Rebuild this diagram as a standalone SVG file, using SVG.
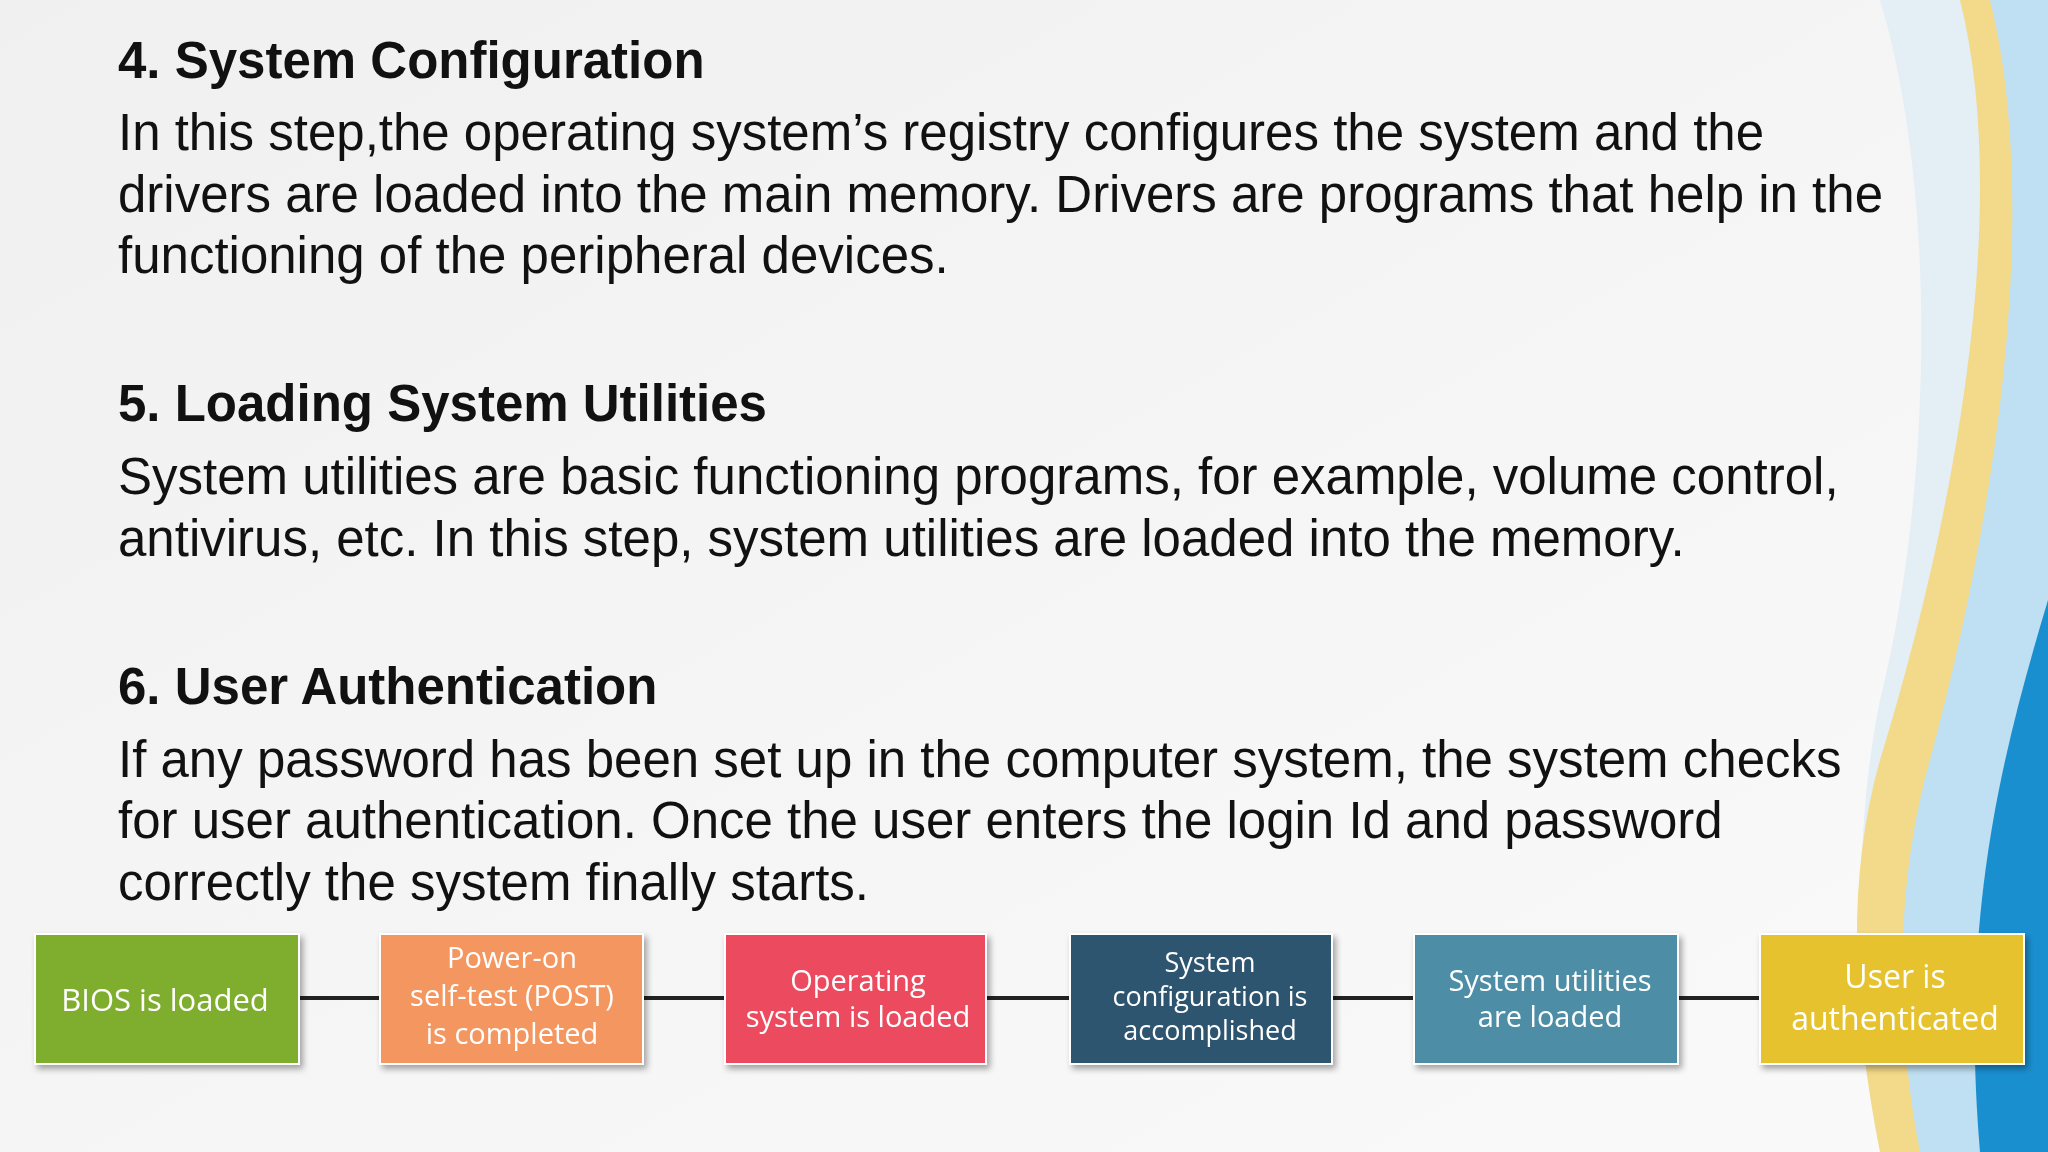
<svg xmlns="http://www.w3.org/2000/svg" width="2048" height="1152" viewBox="0 0 2048 1152">
<defs>
<style>
.h{font-family:"Liberation Sans",Arial,sans-serif;font-weight:bold;font-size:51px;fill:#111}
.b{font-family:"Liberation Sans",Arial,sans-serif;font-size:51px;fill:#111}
.t{font-family:"Open Sans","Liberation Sans",sans-serif;font-size:29px;fill:#fff;text-anchor:middle}
.box{stroke:#fff;stroke-width:2}
</style>
<filter id="sh" x="-10%" y="-10%" width="130%" height="130%"><feDropShadow dx="3" dy="4" stdDeviation="3" flood-color="#000" flood-opacity="0.35"/></filter>
<linearGradient id="bg" x1="0" y1="0" x2="1" y2="1"><stop offset="0" stop-color="#f0f0f0"/><stop offset="1" stop-color="#fafafa"/></linearGradient>
</defs>
<rect width="2048" height="1152" fill="url(#bg)"/>
<g id="decor">
<path d="M1880 0 C1940 200 1930 500 1880 700 C1850 850 1860 1000 1880 1152 L2048 1152 L2048 0 Z" fill="#e4eef5"/>
<path d="M1960 0 C2010 200 1960 500 1880 760 C1840 900 1860 1050 1880 1152 L2048 1152 L2048 0 Z" fill="#f3da8a"/>
<path d="M1990 0 C2040 200 2000 500 1930 760 C1890 900 1900 1050 1920 1152 L2048 1152 L2048 0 Z" fill="#bfe0f2"/>
<path d="M2048 600 C2000 760 1960 920 1980 1152 L2048 1152 Z" fill="#1a8fd0"/>
</g>
<g id="text">
<text class="h" x="118" y="78">4. System Configuration</text>
<text class="b" x="118" y="150">In this step,the operating system’s registry configures the system and the</text>
<text class="b" x="118" y="212">drivers are loaded into the main memory. Drivers are programs that help in the</text>
<text class="b" x="118" y="273">functioning of the peripheral devices.</text>
<text class="h" x="118" y="421">5. Loading System Utilities</text>
<text class="b" x="118" y="494">System utilities are basic functioning programs, for example, volume control,</text>
<text class="b" x="118" y="556">antivirus, etc. In this step, system utilities are loaded into the memory.</text>
<text class="h" x="118" y="704">6. User Authentication</text>
<text class="b" x="118" y="777">If any password has been set up in the computer system, the system checks</text>
<text class="b" x="118" y="838">for user authentication. Once the user enters the login Id and password</text>
<text class="b" x="118" y="900">correctly the system finally starts.</text>
</g>
<g id="connectors" stroke="#222" stroke-width="4">
<line x1="299" y1="998" x2="380" y2="998"/>
<line x1="643" y1="998" x2="725" y2="998"/>
<line x1="986" y1="998" x2="1070" y2="998"/>
<line x1="1332" y1="998" x2="1414" y2="998"/>
<line x1="1678" y1="998" x2="1760" y2="998"/>
</g>
<g id="n1" filter="url(#sh)"><rect class="box" x="35" y="934" width="264" height="130" fill="#7fad2e"/><text class="t" x="165" y="1011" style="font-size:31px">BIOS is loaded</text></g>
<g id="n2" filter="url(#sh)"><rect class="box" x="380" y="934" width="263" height="130" fill="#f4965e"/><text class="t" x="512" y="968">Power-on</text><text class="t" x="512" y="1006">self-test (POST)</text><text class="t" x="512" y="1044">is completed</text></g>
<g id="n3" filter="url(#sh)"><rect class="box" x="725" y="934" width="261" height="130" fill="#ec4b5e"/><text class="t" x="858" y="991">Operating</text><text class="t" x="858" y="1027">system is loaded</text></g>
<g id="n4" filter="url(#sh)"><rect class="box" x="1070" y="934" width="262" height="130" fill="#2e5470"/><text class="t" x="1210" y="972" style="font-size:27px">System</text><text class="t" x="1210" y="1006" style="font-size:27px">configuration is</text><text class="t" x="1210" y="1040" style="font-size:27px">accomplished</text></g>
<g id="n5" filter="url(#sh)"><rect class="box" x="1414" y="934" width="264" height="130" fill="#4e8ea6"/><text class="t" x="1550" y="991">System utilities</text><text class="t" x="1550" y="1027">are loaded</text></g>
<g id="n6" filter="url(#sh)"><rect class="box" x="1760" y="934" width="264" height="130" fill="#e6c32f"/><text class="t" x="1895" y="988" style="font-size:32px">User is</text><text class="t" x="1895" y="1030" style="font-size:32px">authenticated</text></g>
</svg>
